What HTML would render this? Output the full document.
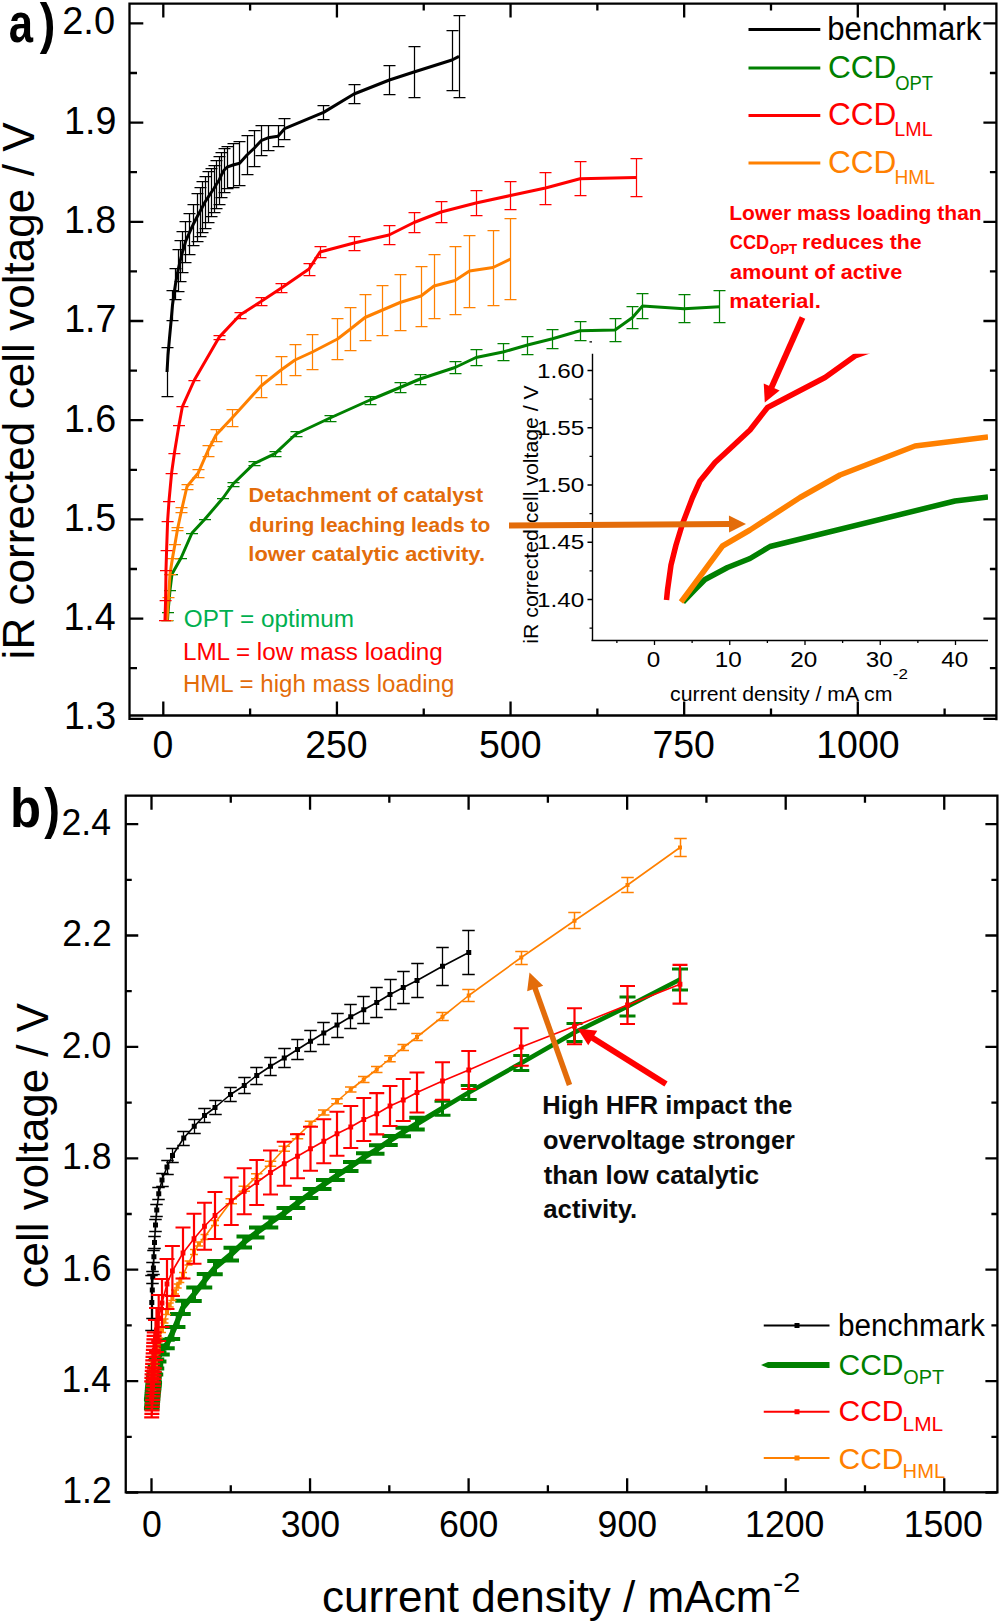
<!DOCTYPE html>
<html lang="en"><head><meta charset="utf-8"><title>Polarization curves</title>
<style>html,body{margin:0;padding:0;background:#fff}svg{display:block}text{white-space:pre}</style>
</head><body>
<svg width="1000" height="1623" viewBox="0 0 1000 1623" font-family="'Liberation Sans', Arial, Helvetica, sans-serif">
<rect x="0" y="0" width="1000" height="1623" fill="#fff"/>
<g id="panel-a">
<path d="M161.50 620.50H173.50M162.00 612.50H174.00M164.00 590.50H176.00M166.00 574.50H178.00M175.00 558.50H187.00M186.00 533.50H198.00M199.00 519.50H211.00M217.00 498.50H229.00M233.50 482.50V486.50M227.50 482.50H239.50M227.50 486.50H239.50M254.50 461.50V465.50M248.50 461.50H260.50M248.50 465.50H260.50M275.50 451.50V456.50M269.50 451.50H281.50M269.50 456.50H281.50M296.50 431.50V436.50M290.50 431.50H302.50M290.50 436.50H302.50M330.50 415.50V421.50M324.50 415.50H336.50M324.50 421.50H336.50M370.50 396.50V404.50M364.50 396.50H376.50M364.50 404.50H376.50M400.50 382.50V392.50M394.50 382.50H406.50M394.50 392.50H406.50M420.50 374.50V384.50M414.50 374.50H426.50M414.50 384.50H426.50M455.50 361.50V373.50M449.50 361.50H461.50M449.50 373.50H461.50M476.50 349.50V365.50M470.50 349.50H482.50M470.50 365.50H482.50M503.50 343.50V360.50M497.50 343.50H509.50M497.50 360.50H509.50M527.50 336.50V354.50M521.50 336.50H533.50M521.50 354.50H533.50M552.50 329.50V348.50M546.50 329.50H558.50M546.50 348.50H558.50M580.50 321.50V340.50M574.50 321.50H586.50M574.50 340.50H586.50M615.50 318.50V341.50M609.50 318.50H621.50M609.50 341.50H621.50M632.50 306.50V328.50M626.50 306.50H638.50M626.50 328.50H638.50M642.50 293.50V318.50M636.50 293.50H648.50M636.50 318.50H648.50M684.50 294.50V322.50M678.50 294.50H690.50M678.50 322.50H690.50M719.50 290.50V322.50M713.50 290.50H725.50M713.50 322.50H725.50" fill="none" stroke="#008000" stroke-width="1.25"/>
<polyline points="167.50,620.00 168.00,612.00 170.00,590.00 172.00,574.00 181.00,558.00 192.00,533.00 205.00,519.00 223.00,498.00 233.00,484.00 254.00,463.60 275.00,453.60 296.00,434.00 330.00,418.00 370.00,400.00 400.00,387.50 420.00,379.00 455.00,367.50 476.00,357.50 503.00,352.00 527.50,345.00 552.50,338.75 580.00,330.75 615.00,330.00 632.50,317.50 642.50,306.00 684.00,308.75 719.50,306.75" fill="none" stroke="#008000" stroke-width="3" stroke-linejoin="round" stroke-linecap="butt"/>
<path d="M161.00 620.50H173.00M162.50 597.50H174.50M164.00 574.50H176.00M166.50 558.50H178.50M169.00 544.50H181.00M177.50 527.50V530.50M171.50 527.50H183.50M171.50 530.50H183.50M181.50 507.50V512.50M175.50 507.50H187.50M175.50 512.50H187.50M187.50 484.50V489.50M181.50 484.50H193.50M181.50 489.50H193.50M198.50 469.50V477.50M192.50 469.50H204.50M192.50 477.50H204.50M208.50 445.50V456.50M202.50 445.50H214.50M202.50 456.50H214.50M216.50 429.50V441.50M210.50 429.50H222.50M210.50 441.50H222.50M232.50 409.50V426.50M226.50 409.50H238.50M226.50 426.50H238.50M261.50 375.50V397.50M255.50 375.50H267.50M255.50 397.50H267.50M281.50 356.50V384.50M275.50 356.50H287.50M275.50 384.50H287.50M295.50 344.50V375.50M289.50 344.50H301.50M289.50 375.50H301.50M312.50 334.50V369.50M306.50 334.50H318.50M306.50 369.50H318.50M337.50 318.50V359.50M331.50 318.50H343.50M331.50 359.50H343.50M350.50 307.50V350.50M344.50 307.50H356.50M344.50 350.50H356.50M365.50 294.50V340.50M359.50 294.50H371.50M359.50 340.50H371.50M382.50 285.50V335.50M376.50 285.50H388.50M376.50 335.50H388.50M400.50 274.50V330.50M394.50 274.50H406.50M394.50 330.50H406.50M421.50 266.50V326.50M415.50 266.50H427.50M415.50 326.50H427.50M434.50 254.50V318.50M428.50 254.50H440.50M428.50 318.50H440.50M455.50 246.50V314.50M449.50 246.50H461.50M449.50 314.50H461.50M469.50 235.50V307.50M463.50 235.50H475.50M463.50 307.50H475.50M493.50 230.50V305.50M487.50 230.50H499.50M487.50 305.50H499.50M510.50 218.50V299.50M504.50 218.50H516.50M504.50 299.50H516.50" fill="none" stroke="#ff8000" stroke-width="1.25"/>
<polyline points="167.00,620.00 168.50,597.00 170.00,574.00 172.50,558.00 175.00,544.00 177.60,528.70 181.60,510.00 187.00,486.50 198.00,473.30 208.00,450.50 216.00,435.00 232.00,418.00 261.00,386.00 281.00,370.00 295.00,360.00 312.40,352.00 337.50,339.00 350.50,329.00 365.00,317.50 382.50,310.00 400.00,302.50 421.00,296.00 434.00,286.00 455.00,280.50 469.50,271.00 493.00,267.50 510.50,259.00" fill="none" stroke="#ff8000" stroke-width="3" stroke-linejoin="round" stroke-linecap="butt"/>
<path d="M159.00 620.50H171.00M159.60 600.50H171.60M160.00 570.50H172.00M160.60 550.50H172.60M161.60 521.50H173.60M163.00 501.50H175.00M165.60 473.50H177.60M168.40 453.50H180.40M173.00 425.50H185.00M176.40 406.50H188.40M188.40 380.50H200.40M219.50 335.50V339.50M213.50 335.50H225.50M213.50 339.50H225.50M240.50 312.50V318.50M234.50 312.50H246.50M234.50 318.50H246.50M261.50 297.50V305.50M255.50 297.50H267.50M255.50 305.50H267.50M281.50 283.50V292.50M275.50 283.50H287.50M275.50 292.50H287.50M309.50 263.50V275.50M303.50 263.50H315.50M303.50 275.50H315.50M320.50 246.50V257.50M314.50 246.50H326.50M314.50 257.50H326.50M354.50 236.50V250.50M348.50 236.50H360.50M348.50 250.50H360.50M389.50 225.50V244.50M383.50 225.50H395.50M383.50 244.50H395.50M414.50 212.50V232.50M408.50 212.50H420.50M408.50 232.50H420.50M441.50 201.50V222.50M435.50 201.50H447.50M435.50 222.50H447.50M476.50 190.50V215.50M470.50 190.50H482.50M470.50 215.50H482.50M510.50 181.50V209.50M504.50 181.50H516.50M504.50 209.50H516.50M545.50 172.50V204.50M539.50 172.50H551.50M539.50 204.50H551.50M580.50 161.50V195.50M574.50 161.50H586.50M574.50 195.50H586.50M636.50 158.50V196.50M630.50 158.50H642.50M630.50 196.50H642.50" fill="none" stroke="#ff0000" stroke-width="1.25"/>
<polyline points="165.00,620.00 165.60,600.00 166.00,570.00 166.60,550.00 167.60,521.00 169.00,501.00 171.60,473.00 174.40,453.00 179.00,425.00 182.40,406.60 194.40,380.00 219.00,337.40 240.00,315.00 261.00,301.60 281.40,288.00 309.00,269.00 320.00,252.00 354.00,243.00 389.00,235.00 414.00,222.50 441.00,212.00 476.00,203.00 510.50,195.50 545.50,188.00 580.00,178.75 636.00,177.50" fill="none" stroke="#ff0000" stroke-width="3" stroke-linejoin="round" stroke-linecap="butt"/>
<path d="M167.50 347.50V396.50M161.50 347.50H173.50M161.50 396.50H173.50M172.50 290.50V320.50M166.50 290.50H178.50M166.50 320.50H178.50M175.50 268.50V299.50M169.50 268.50H181.50M169.50 299.50H181.50M178.50 249.50V291.50M172.50 249.50H184.50M172.50 291.50H184.50M180.50 240.50V281.50M174.50 240.50H186.50M174.50 281.50H186.50M182.50 231.50V272.50M176.50 231.50H188.50M176.50 272.50H188.50M185.50 221.50V262.50M179.50 221.50H191.50M179.50 262.50H191.50M189.50 213.50V254.50M183.50 213.50H195.50M183.50 254.50H195.50M193.50 204.50V245.50M187.50 204.50H199.50M187.50 245.50H199.50M197.50 193.50V241.50M191.50 193.50H203.50M191.50 241.50H203.50M200.50 187.50V236.50M194.50 187.50H206.50M194.50 236.50H206.50M202.50 181.50V232.50M196.50 181.50H208.50M196.50 232.50H208.50M205.50 176.50V228.50M199.50 176.50H211.50M199.50 228.50H211.50M208.50 171.50V222.50M202.50 171.50H214.50M202.50 222.50H214.50M211.50 168.50V216.50M205.50 168.50H217.50M205.50 216.50H217.50M214.50 165.50V212.50M208.50 165.50H220.50M208.50 212.50H220.50M216.50 160.50V208.50M210.50 160.50H222.50M210.50 208.50H222.50M219.50 156.50V204.50M213.50 156.50H225.50M213.50 204.50H225.50M221.50 152.50V197.50M215.50 152.50H227.50M215.50 197.50H227.50M224.50 148.50V192.50M218.50 148.50H230.50M218.50 192.50H230.50M227.50 146.50V188.50M221.50 146.50H233.50M221.50 188.50H233.50M233.50 143.50V187.50M227.50 143.50H239.50M227.50 187.50H239.50M239.50 141.50V185.50M233.50 141.50H245.50M233.50 185.50H245.50M247.50 135.50V174.50M241.50 135.50H253.50M241.50 174.50H253.50M254.50 130.50V166.50M248.50 130.50H260.50M248.50 166.50H260.50M261.50 125.50V155.50M255.50 125.50H267.50M255.50 155.50H267.50M268.50 125.50V150.50M262.50 125.50H274.50M262.50 150.50H274.50M278.50 125.50V146.50M272.50 125.50H284.50M272.50 146.50H284.50M284.50 118.50V139.50M278.50 118.50H290.50M278.50 139.50H290.50M323.50 105.50V119.50M317.50 105.50H329.50M317.50 119.50H329.50M354.50 84.50V103.50M348.50 84.50H360.50M348.50 103.50H360.50M389.50 65.50V94.50M383.50 65.50H395.50M383.50 94.50H395.50M414.50 46.50V97.50M408.50 46.50H420.50M408.50 97.50H420.50M452.50 30.50V90.50M446.50 30.50H458.50M446.50 90.50H458.50M459.50 15.50V97.50M453.50 15.50H465.50M453.50 97.50H465.50" fill="none" stroke="#000000" stroke-width="1.25"/>
<polyline points="167.00,372.00 168.00,355.00 169.50,338.00 171.00,322.00 172.50,305.00 174.00,294.00 175.50,284.00 178.00,270.30 180.30,260.50 182.60,251.50 185.50,241.70 189.00,233.50 193.00,224.80 197.00,217.00 200.00,211.50 202.50,206.80 205.00,202.00 208.50,196.70 211.50,192.00 214.00,188.50 216.50,184.00 219.00,180.30 221.50,174.80 224.00,170.20 227.00,167.20 233.00,165.00 239.60,163.30 247.00,155.00 254.40,148.00 261.60,140.30 268.00,137.80 278.00,136.20 284.60,128.70 323.60,112.40 354.00,94.00 389.40,80.00 414.00,72.00 452.00,60.00 459.00,56.40" fill="none" stroke="#000000" stroke-width="3" stroke-linejoin="round" stroke-linecap="butt"/>
<line x1="748.50" y1="29.50" x2="820.30" y2="29.50" stroke="#000000" stroke-width="3" stroke-linecap="butt"/>
<line x1="748.50" y1="68.00" x2="820.30" y2="68.00" stroke="#008000" stroke-width="3" stroke-linecap="butt"/>
<line x1="748.50" y1="115.50" x2="820.30" y2="115.50" stroke="#ff0000" stroke-width="3" stroke-linecap="butt"/>
<line x1="748.50" y1="163.00" x2="820.30" y2="163.00" stroke="#ff8000" stroke-width="3" stroke-linecap="butt"/>
<rect x="826" y="12" width="158" height="34" fill="#fff"/>
<text x="827.31" y="39.60" font-size="32.30" fill="#000000" textLength="153.92" lengthAdjust="spacingAndGlyphs">benchmark</text>
<text fill="#008000"><tspan x="827.92" y="78.30" font-size="31.60" textLength="68.48" lengthAdjust="spacingAndGlyphs">CCD</tspan><tspan x="895.14" y="89.50" font-size="19.60" textLength="37.78" lengthAdjust="spacingAndGlyphs">OPT</tspan></text>
<text fill="#ff0000"><tspan x="827.92" y="125.00" font-size="31.60" textLength="68.48" lengthAdjust="spacingAndGlyphs">CCD</tspan><tspan x="894.39" y="136.20" font-size="19.60" textLength="38.27" lengthAdjust="spacingAndGlyphs">LML</tspan></text>
<text fill="#ff8000"><tspan x="827.92" y="172.50" font-size="31.60" textLength="68.48" lengthAdjust="spacingAndGlyphs">CCD</tspan><tspan x="894.43" y="183.70" font-size="19.60" textLength="40.51" lengthAdjust="spacingAndGlyphs">HML</tspan></text>
<g id="inset-a">
<clipPath id="clipInset"><rect x="592.0" y="353.75" width="396.0" height="286.75"/></clipPath>
<text x="-1.40" y="0.00" font-size="20.60" fill="#000" transform="translate(538.30,642.30) rotate(-90)" textLength="258.48" lengthAdjust="spacingAndGlyphs">iR corrected cell voltage / V</text>
<text x="537.05" y="377.50" font-size="21.00" fill="#000" textLength="47.28" lengthAdjust="spacingAndGlyphs">1.60</text>
<text x="537.05" y="434.75" font-size="21.00" fill="#000" textLength="47.35" lengthAdjust="spacingAndGlyphs">1.55</text>
<text x="537.05" y="492.00" font-size="21.00" fill="#000" textLength="47.28" lengthAdjust="spacingAndGlyphs">1.50</text>
<text x="537.05" y="549.25" font-size="21.00" fill="#000" textLength="47.35" lengthAdjust="spacingAndGlyphs">1.45</text>
<text x="537.05" y="606.50" font-size="21.00" fill="#000" textLength="47.28" lengthAdjust="spacingAndGlyphs">1.40</text>
<text x="646.74" y="667.20" font-size="21.30" fill="#000" textLength="13.50" lengthAdjust="spacingAndGlyphs">0</text>
<text x="714.79" y="667.20" font-size="21.30" fill="#000" textLength="27.01" lengthAdjust="spacingAndGlyphs">10</text>
<text x="790.35" y="667.20" font-size="21.30" fill="#000" textLength="27.01" lengthAdjust="spacingAndGlyphs">20</text>
<text x="865.75" y="667.20" font-size="21.30" fill="#000" textLength="27.01" lengthAdjust="spacingAndGlyphs">30</text>
<text x="941.19" y="667.20" font-size="21.30" fill="#000" textLength="27.01" lengthAdjust="spacingAndGlyphs">40</text>
<text fill="#000"><tspan x="670.11" y="700.80" font-size="21.00" textLength="222.27" lengthAdjust="spacingAndGlyphs">current density / mA cm</tspan><tspan x="892.75" y="679.00" font-size="14.00" textLength="15.10" lengthAdjust="spacingAndGlyphs">-2</tspan></text>
<line x1="592.50" y1="353.75" x2="592.50" y2="641.00" stroke="#000000" stroke-width="1.4" stroke-linecap="butt"/>
<line x1="591.50" y1="640.50" x2="988.00" y2="640.50" stroke="#000000" stroke-width="1.4" stroke-linecap="butt"/>
<path d="M592.00 628.12h-2.5M592.00 599.50h-4.5M592.00 570.87h-2.5M592.00 542.25h-4.5M592.00 513.62h-2.5M592.00 485.00h-4.5M592.00 456.38h-2.5M592.00 427.75h-4.5M592.00 399.12h-2.5M592.00 370.50h-4.5M592.00 341.87h-2.5M616.88 640.50v2.5M654.50 640.50v4.5M692.12 640.50v2.5M729.75 640.50v4.5M767.38 640.50v2.5M805.00 640.50v4.5M842.62 640.50v2.5M880.25 640.50v4.5M917.88 640.50v2.5M955.50 640.50v4.5" stroke="#000" stroke-width="1.3" fill="none"/>
<g clip-path="url(#clipInset)">
<polyline points="683.00,602.00 695.00,589.50 705.00,579.50 727.50,567.50 750.00,558.50 770.00,546.50 955.00,501.00 988.00,497.00" fill="none" stroke="#008000" stroke-width="5.5" stroke-linejoin="round" stroke-linecap="butt"/>
<polyline points="681.00,602.00 690.00,590.00 722.50,546.00 750.00,530.00 800.00,497.50 840.00,475.00 915.00,446.00 988.00,437.00" fill="none" stroke="#ff8000" stroke-width="5.5" stroke-linejoin="round" stroke-linecap="butt"/>
<polyline points="666.50,600.00 667.50,590.00 671.00,565.00 676.00,545.00 682.50,523.75 692.50,497.50 700.00,481.00 715.00,462.50 727.50,451.00 750.00,430.00 767.50,407.50 825.00,377.50 855.00,356.00 869.00,351.00" fill="none" stroke="#ff0000" stroke-width="5.5" stroke-linejoin="round" stroke-linecap="butt"/>
</g>
</g>
<path d="M129.50 23.40h13.8M996.40 23.40h-13M129.50 73.00h7.5M996.40 73.00h-6.5M129.50 122.60h13.8M996.40 122.60h-13M129.50 172.20h7.5M996.40 172.20h-6.5M129.50 221.80h13.8M996.40 221.80h-13M129.50 271.40h7.5M996.40 271.40h-6.5M129.50 321.00h13.8M996.40 321.00h-13M129.50 370.60h7.5M996.40 370.60h-6.5M129.50 420.20h13.8M996.40 420.20h-13M129.50 469.80h7.5M996.40 469.80h-6.5M129.50 519.40h13.8M996.40 519.40h-13M129.50 569.00h7.5M996.40 569.00h-6.5M129.50 618.60h13.8M996.40 618.60h-13M129.50 668.20h7.5M996.40 668.20h-6.5M129.50 718.80h13.8M996.40 718.80h-13M163.30 3.55v14M163.30 715.50v-14M250.11 3.55v7M250.11 715.50v-7M336.93 3.55v14M336.93 715.50v-14M423.74 3.55v7M423.74 715.50v-7M510.55 3.55v14M510.55 715.50v-14M597.36 3.55v7M597.36 715.50v-7M684.17 3.55v14M684.17 715.50v-14M770.99 3.55v7M770.99 715.50v-7M857.80 3.55v14M857.80 715.50v-14M944.61 3.55v7M944.61 715.50v-7" stroke="#000" stroke-width="2.3" fill="none"/>
<path d="M129.5 720V3.55H996.4V720.2M128.4 715.5H997.5" stroke="#000" stroke-width="2.3" fill="none"/>
<text x="62.22" y="34.00" font-size="38.00" fill="#000" textLength="52.83" lengthAdjust="spacingAndGlyphs">2.0</text>
<text x="64.08" y="133.90" font-size="38.00" fill="#000" textLength="52.30" lengthAdjust="spacingAndGlyphs">1.9</text>
<text x="63.93" y="233.10" font-size="38.00" fill="#000" textLength="52.30" lengthAdjust="spacingAndGlyphs">1.8</text>
<text x="64.19" y="332.30" font-size="38.00" fill="#000" textLength="52.30" lengthAdjust="spacingAndGlyphs">1.7</text>
<text x="63.93" y="431.50" font-size="38.00" fill="#000" textLength="52.30" lengthAdjust="spacingAndGlyphs">1.6</text>
<text x="63.85" y="530.70" font-size="38.00" fill="#000" textLength="52.30" lengthAdjust="spacingAndGlyphs">1.5</text>
<text x="63.40" y="629.90" font-size="38.00" fill="#000" textLength="52.30" lengthAdjust="spacingAndGlyphs">1.4</text>
<text x="63.93" y="729.10" font-size="38.00" fill="#000" textLength="52.30" lengthAdjust="spacingAndGlyphs">1.3</text>
<text x="152.58" y="758.20" font-size="38.00" fill="#000" textLength="20.82" lengthAdjust="spacingAndGlyphs">0</text>
<text x="305.18" y="758.20" font-size="38.00" fill="#000" textLength="62.45" lengthAdjust="spacingAndGlyphs">250</text>
<text x="479.00" y="758.20" font-size="38.00" fill="#000" textLength="62.45" lengthAdjust="spacingAndGlyphs">500</text>
<text x="652.42" y="758.20" font-size="38.00" fill="#000" textLength="62.45" lengthAdjust="spacingAndGlyphs">750</text>
<text x="816.27" y="758.20" font-size="38.00" fill="#000" textLength="83.27" lengthAdjust="spacingAndGlyphs">1000</text>
<text x="-2.91" y="0.00" font-size="44.50" fill="#000" transform="translate(33.80,656.50) rotate(-90)" textLength="536.98" lengthAdjust="spacingAndGlyphs">iR corrected cell voltage / V</text>
<text y="41.60" font-size="55.50" fill="#000000" font-weight="bold"><tspan x="8.63" textLength="24.27" lengthAdjust="spacingAndGlyphs">a</tspan><tspan x="39.85" textLength="15.65" lengthAdjust="spacingAndGlyphs">)</tspan></text>
<text x="729.21" y="220.00" font-size="20.30" fill="#ff0000" font-weight="bold" textLength="252.49" lengthAdjust="spacingAndGlyphs">Lower mass loading than</text>
<text fill="#ff0000" font-weight="bold"><tspan x="729.85" y="249.45" font-size="20.30" textLength="39.40" lengthAdjust="spacingAndGlyphs">CCD</tspan><tspan x="769.86" y="254.25" font-size="13.80" textLength="27.27" lengthAdjust="spacingAndGlyphs">OPT</tspan><tspan x="796.19" y="249.45" font-size="20.30" textLength="125.54" lengthAdjust="spacingAndGlyphs"> reduces the</tspan></text>
<text x="729.97" y="278.90" font-size="20.30" fill="#ff0000" font-weight="bold" textLength="172.26" lengthAdjust="spacingAndGlyphs">amount of active</text>
<text x="729.15" y="308.35" font-size="20.30" fill="#ff0000" font-weight="bold" textLength="91.80" lengthAdjust="spacingAndGlyphs">material.</text>
<text x="248.49" y="502.30" font-size="20.50" fill="#e36c0a" font-weight="bold" textLength="234.67" lengthAdjust="spacingAndGlyphs">Detachment of catalyst</text>
<text x="249.04" y="532.00" font-size="20.50" fill="#e36c0a" font-weight="bold" textLength="241.27" lengthAdjust="spacingAndGlyphs">during leaching leads to</text>
<text x="248.39" y="560.80" font-size="20.50" fill="#e36c0a" font-weight="bold" textLength="236.61" lengthAdjust="spacingAndGlyphs">lower catalytic activity.</text>
<text x="183.76" y="627.00" font-size="23.00" fill="#00b050" textLength="170.31" lengthAdjust="spacingAndGlyphs">OPT = optimum</text>
<text x="182.91" y="660.00" font-size="23.00" fill="#ff0000" textLength="259.95" lengthAdjust="spacingAndGlyphs">LML = low mass loading</text>
<text x="182.93" y="691.70" font-size="23.00" fill="#e36c0a" textLength="271.43" lengthAdjust="spacingAndGlyphs">HML = high mass loading</text>
<line x1="802.50" y1="317.50" x2="771.29" y2="387.87" stroke="#ff0000" stroke-width="6" stroke-linecap="butt"/>
<polygon points="764.80,402.50 763.74,383.43 779.65,390.49" fill="#ff0000"/>
<line x1="509.00" y1="525.40" x2="730.00" y2="524.09" stroke="#e36c0a" stroke-width="6" stroke-linecap="butt"/>
<polygon points="746.00,524.00 729.05,532.60 728.95,515.60" fill="#e36c0a"/>
</g>
<g id="panel-b">
<path d="M151.50 1275.50V1330.50M145.25 1275.50H157.75M145.25 1330.50H157.75M152.50 1262.50V1318.50M146.25 1262.50H158.75M146.25 1318.50H158.75M152.50 1271.50V1283.50M146.25 1271.50H158.75M146.25 1283.50H158.75M153.50 1262.50V1274.50M147.25 1262.50H159.75M147.25 1274.50H159.75M153.50 1250.50V1262.50M147.25 1250.50H159.75M147.25 1262.50H159.75M154.50 1236.50V1248.50M148.25 1236.50H160.75M148.25 1248.50H160.75M155.50 1219.50V1231.50M149.25 1219.50H161.75M149.25 1231.50H161.75M156.50 1204.50V1216.50M150.25 1204.50H162.75M150.25 1216.50H162.75M158.50 1187.50V1199.50M152.25 1187.50H164.75M152.25 1199.50H164.75M162.50 1173.50V1186.50M156.25 1173.50H168.75M156.25 1186.50H168.75M167.50 1160.50V1174.50M161.25 1160.50H173.75M161.25 1174.50H173.75M172.50 1148.50V1162.50M166.25 1148.50H178.75M166.25 1162.50H178.75M183.50 1131.50V1145.50M177.25 1131.50H189.75M177.25 1145.50H189.75M194.50 1119.50V1133.50M188.25 1119.50H200.75M188.25 1133.50H200.75M204.50 1108.50V1122.50M198.25 1108.50H210.75M198.25 1122.50H210.75M215.50 1100.50V1114.50M209.25 1100.50H221.75M209.25 1114.50H221.75M230.50 1087.50V1101.50M224.25 1087.50H236.75M224.25 1101.50H236.75M244.50 1077.50V1093.50M238.25 1077.50H250.75M238.25 1093.50H250.75M256.50 1067.50V1084.50M250.25 1067.50H262.75M250.25 1084.50H262.75M270.50 1057.50V1075.50M264.25 1057.50H276.75M264.25 1075.50H276.75M284.50 1048.50V1067.50M278.25 1048.50H290.75M278.25 1067.50H290.75M297.50 1039.50V1059.50M291.25 1039.50H303.75M291.25 1059.50H303.75M310.50 1030.50V1051.50M304.25 1030.50H316.75M304.25 1051.50H316.75M323.50 1022.50V1044.50M317.25 1022.50H329.75M317.25 1044.50H329.75M337.50 1013.50V1037.50M331.25 1013.50H343.75M331.25 1037.50H343.75M350.50 1004.50V1028.50M344.25 1004.50H356.75M344.25 1028.50H356.75M363.50 996.50V1023.50M357.25 996.50H369.75M357.25 1023.50H369.75M376.50 987.50V1017.50M370.25 987.50H382.75M370.25 1017.50H382.75M390.50 979.50V1009.50M384.25 979.50H396.75M384.25 1009.50H396.75M403.50 971.50V1003.50M397.25 971.50H409.75M397.25 1003.50H409.75M417.50 963.50V997.50M411.25 963.50H423.75M411.25 997.50H423.75M442.50 947.50V985.50M436.25 947.50H448.75M436.25 985.50H448.75M468.50 930.50V974.50M462.25 930.50H474.75M462.25 974.50H474.75" fill="none" stroke="#000000" stroke-width="1.3"/>
<polyline points="151.80,1302.50 152.30,1290.00 152.80,1277.00 153.40,1268.00 153.90,1256.75 154.50,1242.50 155.50,1225.00 156.75,1210.00 158.75,1193.75 162.00,1180.00 167.00,1167.00 172.50,1155.50 183.75,1138.00 194.25,1126.25 204.50,1115.50 215.00,1107.50 230.50,1094.50 244.25,1085.50 256.75,1075.50 270.50,1066.25 284.25,1058.00 297.50,1049.50 310.50,1041.25 323.75,1033.00 337.00,1025.00 350.75,1016.75 363.75,1009.75 376.75,1002.50 390.00,994.50 403.25,987.50 417.00,980.50 442.50,966.25 468.75,952.50" fill="none" stroke="#000000" stroke-width="1.6" stroke-linejoin="round" stroke-linecap="butt"/>
<path d="M149.30 1300.00h5v5h-5zM149.80 1287.50h5v5h-5zM150.30 1274.50h5v5h-5zM150.90 1265.50h5v5h-5zM151.40 1254.25h5v5h-5zM152.00 1240.00h5v5h-5zM153.00 1222.50h5v5h-5zM154.25 1207.50h5v5h-5zM156.25 1191.25h5v5h-5zM159.50 1177.50h5v5h-5zM164.50 1164.50h5v5h-5zM170.00 1153.00h5v5h-5zM181.25 1135.50h5v5h-5zM191.75 1123.75h5v5h-5zM202.00 1113.00h5v5h-5zM212.50 1105.00h5v5h-5zM228.00 1092.00h5v5h-5zM241.75 1083.00h5v5h-5zM254.25 1073.00h5v5h-5zM268.00 1063.75h5v5h-5zM281.75 1055.50h5v5h-5zM295.00 1047.00h5v5h-5zM308.00 1038.75h5v5h-5zM321.25 1030.50h5v5h-5zM334.50 1022.50h5v5h-5zM348.25 1014.25h5v5h-5zM361.25 1007.25h5v5h-5zM374.25 1000.00h5v5h-5zM387.50 992.00h5v5h-5zM400.75 985.00h5v5h-5zM414.50 978.00h5v5h-5zM440.00 963.75h5v5h-5zM466.25 950.00h5v5h-5z" fill="#000000"/>
<path d="M151.70 1399.50V1408.50M143.95 1399.50H159.45M143.95 1408.50H159.45M151.89 1398.42V1407.42M144.14 1398.42H159.64M144.14 1407.42H159.64M152.07 1396.26V1405.26M144.32 1396.26H159.82M144.32 1405.26H159.82M152.26 1393.98V1402.98M144.51 1393.98H160.01M144.51 1402.98H160.01M152.44 1391.82V1400.82M144.69 1391.82H160.19M144.69 1400.82H160.19M152.63 1389.54V1398.54M144.88 1389.54H160.38M144.88 1398.54H160.38M152.81 1387.40V1396.40M145.06 1387.40H160.56M145.06 1396.40H160.56M153.00 1385.50V1394.50M145.25 1385.50H160.75M145.25 1394.50H160.75M153.19 1383.60V1392.60M145.44 1383.60H160.94M145.44 1392.60H160.94M153.37 1381.80V1390.80M145.62 1381.80H161.12M145.62 1390.80H161.12M153.56 1380.17V1389.17M145.81 1380.17H161.31M145.81 1389.17H161.31M153.74 1378.67V1387.67M145.99 1378.67H161.49M145.99 1387.67H161.49M153.93 1377.08V1386.08M146.18 1377.08H161.68M146.18 1386.08H161.68M154.11 1375.40V1384.40M146.36 1375.40H161.86M146.36 1384.40H161.86M154.30 1373.50V1382.50M146.55 1373.50H162.05M146.55 1382.50H162.05M155.50 1365.50V1374.50M147.75 1365.50H163.25M147.75 1374.50H163.25M156.50 1359.50V1368.50M148.75 1359.50H164.25M148.75 1368.50H164.25M158.70 1352.50V1361.50M150.95 1352.50H166.45M150.95 1361.50H166.45M162.00 1345.50V1354.50M154.25 1345.50H169.75M154.25 1354.50H169.75M167.00 1339.75V1348.25M159.25 1339.75H174.75M159.25 1348.25H174.75M172.40 1327.12V1338.88M164.65 1327.12H180.15M164.65 1338.88H180.15M177.70 1314.10V1326.90M169.95 1314.10H185.45M169.95 1326.90H185.45M183.00 1300.84V1313.96M175.25 1300.84H190.75M175.25 1313.96H190.75M194.00 1287.59V1300.91M186.25 1287.59H201.75M186.25 1300.91H201.75M204.50 1274.09V1287.41M196.75 1274.09H212.25M196.75 1287.41H212.25M215.00 1260.96V1274.24M207.25 1260.96H222.75M207.25 1274.24H222.75M231.25 1247.80V1260.60M223.50 1247.80H239.00M223.50 1260.60H239.00M244.25 1236.58V1247.42M236.50 1236.58H252.00M236.50 1247.42H252.00M256.75 1227.62V1237.38M249.00 1227.62H264.50M249.00 1237.38H264.50M270.50 1217.62V1227.38M262.75 1217.62H278.25M262.75 1227.38H278.25M284.25 1208.12V1217.88M276.50 1208.12H292.00M276.50 1217.88H292.00M297.50 1198.12V1207.88M289.75 1198.12H305.25M289.75 1207.88H305.25M310.50 1188.88V1198.12M302.75 1188.88H318.25M302.75 1198.12H318.25M323.75 1180.00V1189.00M316.00 1180.00H331.50M316.00 1189.00H331.50M337.00 1171.00V1180.00M329.25 1171.00H344.75M329.25 1180.00H344.75M350.75 1162.00V1171.00M343.00 1162.00H358.50M343.00 1171.00H358.50M363.75 1153.25V1161.75M356.00 1153.25H371.50M356.00 1161.75H371.50M376.75 1145.25V1153.75M369.00 1145.25H384.50M369.00 1153.75H384.50M390.00 1136.12V1144.88M382.25 1136.12H397.75M382.25 1144.88H397.75M403.25 1127.78V1136.22M395.50 1127.78H411.00M395.50 1136.22H411.00M417.00 1117.66V1129.54M409.25 1117.66H424.75M409.25 1129.54H424.75" fill="none" stroke="#008000" stroke-width="4"/>
<path d="M442.50 1101.25V1115.25M434.50 1101.25H450.50M434.50 1115.25H450.50M468.75 1085.50V1099.50M460.75 1085.50H476.75M460.75 1099.50H476.75M521.25 1055.50V1070.50M513.25 1055.50H529.25M513.25 1070.50H529.25M574.50 1023.50V1041.50M566.50 1023.50H582.50M566.50 1041.50H582.50M627.50 996.90V1016.10M619.50 996.90H635.50M619.50 1016.10H635.50M680.00 969.00V990.00M672.00 969.00H688.00M672.00 990.00H688.00" fill="none" stroke="#008000" stroke-width="3"/>
<polyline points="151.70,1404.00 151.89,1402.92 152.07,1400.76 152.26,1398.48 152.44,1396.32 152.63,1394.04 152.81,1391.90 153.00,1390.00 153.19,1388.10 153.37,1386.30 153.56,1384.67 153.74,1383.17 153.93,1381.58 154.11,1379.90 154.30,1378.00 155.50,1370.00 156.50,1364.00 158.70,1357.00 162.00,1350.00 167.00,1344.00 172.40,1333.00 177.70,1320.50 183.00,1307.40 194.00,1294.25 204.50,1280.75 215.00,1267.60 231.25,1254.20 244.25,1242.00 256.75,1232.50 270.50,1222.50 284.25,1213.00 297.50,1203.00 310.50,1193.50 323.75,1184.50 337.00,1175.50 350.75,1166.50 363.75,1157.50 376.75,1149.50 390.00,1140.50 403.25,1132.00 417.00,1123.60 442.50,1108.25" fill="none" stroke="#008000" stroke-width="5.5" stroke-linejoin="round" stroke-linecap="butt"/>
<polyline points="442.50,1108.25 468.75,1092.50 521.25,1063.00 574.50,1032.50 627.50,1006.50 680.00,979.50" fill="none" stroke="#008000" stroke-width="4.6" stroke-linejoin="round" stroke-linecap="butt"/>
<path d="M151.80 1396.00V1400.00M147.80 1396.00H155.80M147.80 1400.00H155.80M152.30 1386.00V1390.00M148.30 1386.00H156.30M148.30 1390.00H156.30M152.80 1377.00V1381.00M148.80 1377.00H156.80M148.80 1381.00H156.80M153.40 1369.00V1373.00M149.40 1369.00H157.40M149.40 1373.00H157.40M154.00 1362.00V1366.00M150.00 1362.00H158.00M150.00 1366.00H158.00M154.50 1356.00V1360.00M150.50 1356.00H158.50M150.50 1360.00H158.50M155.50 1350.00V1354.00M151.50 1350.00H159.50M151.50 1354.00H159.50M156.50 1345.00V1349.00M152.50 1345.00H160.50M152.50 1349.00H160.50M158.70 1338.00V1342.00M154.70 1338.00H162.70M154.70 1342.00H162.70M162.00 1327.50V1332.50M158.00 1327.50H166.00M158.00 1332.50H166.00M164.50 1319.00V1323.00M160.50 1319.00H168.50M160.50 1323.00H168.50M167.00 1309.50V1314.50M163.00 1309.50H171.00M163.00 1314.50H171.00M169.70 1303.00V1307.00M165.70 1303.00H173.70M165.70 1307.00H173.70M172.40 1295.50V1300.50M168.40 1295.50H176.40M168.40 1300.50H176.40M175.00 1290.00V1294.00M171.00 1290.00H179.00M171.00 1294.00H179.00M177.70 1284.00V1288.00M173.70 1284.00H181.70M173.70 1288.00H181.70M180.30 1278.50V1282.50M176.30 1278.50H184.30M176.30 1282.50H184.30M183.00 1272.50V1277.50M179.00 1272.50H187.00M179.00 1277.50H187.00M188.50 1261.00V1265.00M184.50 1261.00H192.50M184.50 1265.00H192.50M194.00 1249.50V1254.50M190.00 1249.50H198.00M190.00 1254.50H198.00M199.00 1242.00V1246.00M195.00 1242.00H203.00M195.00 1246.00H203.00M204.50 1234.50V1239.50M200.50 1234.50H208.50M200.50 1239.50H208.50M215.00 1220.50V1225.50M211.00 1220.50H219.00M211.00 1225.50H219.00" fill="none" stroke="#ff8000" stroke-width="1.3"/>
<path d="M231.25 1198.75V1203.75M225.50 1198.75H237.00M225.50 1203.75H237.00M244.25 1186.25V1191.25M238.50 1186.25H250.00M238.50 1191.25H250.00M256.75 1173.75V1178.75M251.00 1173.75H262.50M251.00 1178.75H262.50M270.50 1161.25V1166.25M264.75 1161.25H276.25M264.75 1166.25H276.25M284.25 1146.25V1151.25M278.50 1146.25H290.00M278.50 1151.25H290.00M297.50 1133.75V1138.75M291.75 1133.75H303.25M291.75 1138.75H303.25M310.50 1121.25V1126.25M304.75 1121.25H316.25M304.75 1126.25H316.25M323.75 1110.00V1115.00M318.00 1110.00H329.50M318.00 1115.00H329.50M337.00 1098.75V1103.75M331.25 1098.75H342.75M331.25 1103.75H342.75M350.75 1087.00V1092.00M345.00 1087.00H356.50M345.00 1092.00H356.50M363.75 1076.50V1082.50M358.00 1076.50H369.50M358.00 1082.50H369.50M376.75 1066.50V1072.50M371.00 1066.50H382.50M371.00 1072.50H382.50M390.00 1055.75V1061.75M384.25 1055.75H395.75M384.25 1061.75H395.75M403.25 1044.50V1050.50M397.50 1044.50H409.00M397.50 1050.50H409.00M417.00 1033.50V1040.50M411.25 1033.50H422.75M411.25 1040.50H422.75" fill="none" stroke="#ff8000" stroke-width="1.4"/>
<path d="M442.50 1012.50V1020.50M436.25 1012.50H448.75M436.25 1020.50H448.75M468.50 989.50V1001.50M462.25 989.50H474.75M462.25 1001.50H474.75M521.50 951.50V964.50M515.25 951.50H527.75M515.25 964.50H527.75M574.50 912.50V928.50M568.25 912.50H580.75M568.25 928.50H580.75M627.50 877.50V892.50M621.25 877.50H633.75M621.25 892.50H633.75M680.50 838.50V856.50M674.25 838.50H686.75M674.25 856.50H686.75" fill="none" stroke="#ff8000" stroke-width="1.5"/>
<polyline points="151.80,1398.00 152.30,1388.00 152.80,1379.00 153.40,1371.00 154.00,1364.00 154.50,1358.00 155.50,1352.00 156.50,1347.00 158.70,1340.00 162.00,1330.00 164.50,1321.00 167.00,1312.00 169.70,1305.00 172.40,1298.00 175.00,1292.00 177.70,1286.00 180.30,1280.50 183.00,1275.00 188.50,1263.00 194.00,1252.00 199.00,1244.00 204.50,1237.00 215.00,1223.00 231.25,1201.25 244.25,1188.75 256.75,1176.25 270.50,1163.75 284.25,1148.75 297.50,1136.25 310.50,1123.75 323.75,1112.50 337.00,1101.25 350.75,1089.50 363.75,1079.50 376.75,1069.50 390.00,1058.75 403.25,1047.50 417.00,1037.00 442.50,1016.75 468.75,995.50 521.25,957.50 574.50,920.75 627.50,885.00 680.00,847.50" fill="none" stroke="#ff8000" stroke-width="1.6" stroke-linejoin="round" stroke-linecap="butt"/>
<path d="M149.80 1396.00h4v4h-4zM150.30 1386.00h4v4h-4zM150.80 1377.00h4v4h-4zM151.40 1369.00h4v4h-4zM152.00 1362.00h4v4h-4zM152.50 1356.00h4v4h-4zM153.50 1350.00h4v4h-4zM154.50 1345.00h4v4h-4zM156.70 1338.00h4v4h-4zM160.00 1328.00h4v4h-4zM162.50 1319.00h4v4h-4zM165.00 1310.00h4v4h-4zM167.70 1303.00h4v4h-4zM170.40 1296.00h4v4h-4zM173.00 1290.00h4v4h-4zM175.70 1284.00h4v4h-4zM178.30 1278.50h4v4h-4zM181.00 1273.00h4v4h-4zM186.50 1261.00h4v4h-4zM192.00 1250.00h4v4h-4zM197.00 1242.00h4v4h-4zM202.50 1235.00h4v4h-4zM213.00 1221.00h4v4h-4zM229.25 1199.25h4v4h-4zM242.25 1186.75h4v4h-4zM254.75 1174.25h4v4h-4zM268.50 1161.75h4v4h-4zM282.25 1146.75h4v4h-4zM295.50 1134.25h4v4h-4zM308.50 1121.75h4v4h-4zM321.75 1110.50h4v4h-4zM335.00 1099.25h4v4h-4zM348.75 1087.50h4v4h-4zM361.75 1077.50h4v4h-4zM374.75 1067.50h4v4h-4zM388.00 1056.75h4v4h-4zM401.25 1045.50h4v4h-4zM415.00 1035.00h4v4h-4zM440.50 1014.75h4v4h-4zM466.75 993.50h4v4h-4zM519.25 955.50h4v4h-4zM572.50 918.75h4v4h-4zM625.50 883.00h4v4h-4zM678.00 845.50h4v4h-4z" fill="#ff8000"/>
<path d="M151.70 1381.40V1417.40M144.20 1381.40H159.20M144.20 1417.40H159.20M151.89 1377.90V1413.90M144.39 1377.90H159.39M144.39 1413.90H159.39M152.07 1374.40V1410.40M144.57 1374.40H159.57M144.57 1410.40H159.57M152.26 1370.90V1406.90M144.76 1370.90H159.76M144.76 1406.90H159.76M152.44 1367.40V1403.40M144.94 1367.40H159.94M144.94 1403.40H159.94M152.63 1363.90V1399.90M145.13 1363.90H160.13M145.13 1399.90H160.13M152.81 1360.40V1396.40M145.31 1360.40H160.31M145.31 1396.40H160.31M153.00 1356.90V1392.90M145.50 1356.90H160.50M145.50 1392.90H160.50M153.19 1353.40V1389.40M145.69 1353.40H160.69M145.69 1389.40H160.69M153.37 1349.90V1385.90M145.87 1349.90H160.87M145.87 1385.90H160.87M153.56 1346.40V1382.40M146.06 1346.40H161.06M146.06 1382.40H161.06M153.74 1342.90V1378.90M146.24 1342.90H161.24M146.24 1378.90H161.24M153.93 1339.40V1375.40M146.43 1339.40H161.43M146.43 1375.40H161.43M154.11 1335.90V1371.90M146.61 1335.90H161.61M146.61 1371.90H161.61M154.30 1332.40V1368.40M146.80 1332.40H161.80M146.80 1368.40H161.80M155.50 1320.00V1360.00M148.00 1320.00H163.00M148.00 1360.00H163.00M156.50 1308.00V1352.00M149.00 1308.00H164.00M149.00 1352.00H164.00M158.70 1295.00V1341.00M151.20 1295.00H166.20M151.20 1341.00H166.20M162.00 1279.00V1327.00M154.50 1279.00H169.50M154.50 1327.00H169.50M167.00 1259.00V1309.00M159.50 1259.00H174.50M159.50 1309.00H174.50M172.40 1246.00V1296.00M164.90 1246.00H179.90M164.90 1296.00H179.90M183.00 1227.50V1278.50M175.50 1227.50H190.50M175.50 1278.50H190.50M194.00 1213.75V1263.75M186.50 1213.75H201.50M186.50 1263.75H201.50M204.50 1202.75V1249.75M197.00 1202.75H212.00M197.00 1249.75H212.00M215.00 1192.00V1239.00M207.50 1192.00H222.50M207.50 1239.00H222.50M231.25 1177.50V1225.00M223.75 1177.50H238.75M223.75 1225.00H238.75M244.25 1168.25V1214.25M236.75 1168.25H251.75M236.75 1214.25H251.75M256.75 1160.00V1205.00M249.25 1160.00H264.25M249.25 1205.00H264.25M270.50 1150.50V1194.50M263.00 1150.50H278.00M263.00 1194.50H278.00M284.25 1141.75V1185.75M276.75 1141.75H291.75M276.75 1185.75H291.75M297.50 1134.25V1178.25M290.00 1134.25H305.00M290.00 1178.25H305.00M310.50 1126.75V1170.75M303.00 1126.75H318.00M303.00 1170.75H318.00M323.75 1119.25V1163.25M316.25 1119.25H331.25M316.25 1163.25H331.25M337.00 1111.75V1155.75M329.50 1111.75H344.50M329.50 1155.75H344.50M350.75 1106.00V1148.00M343.25 1106.00H358.25M343.25 1148.00H358.25M363.75 1098.00V1141.00M356.25 1098.00H371.25M356.25 1141.00H371.25M376.75 1093.15V1134.35M369.25 1093.15H384.25M369.25 1134.35H384.25M390.00 1086.00V1126.00M382.50 1086.00H397.50M382.50 1126.00H397.50M403.25 1079.00V1121.00M395.75 1079.00H410.75M395.75 1121.00H410.75M417.00 1072.50V1112.50M409.50 1072.50H424.50M409.50 1112.50H424.50M442.50 1062.25V1099.75M435.00 1062.25H450.00M435.00 1099.75H450.00M468.75 1051.00V1089.00M461.25 1051.00H476.25M461.25 1089.00H476.25M521.25 1028.25V1065.75M513.75 1028.25H528.75M513.75 1065.75H528.75M574.50 1008.25V1044.25M567.00 1008.25H582.00M567.00 1044.25H582.00M627.50 986.00V1024.00M620.00 986.00H635.00M620.00 1024.00H635.00M680.00 964.85V1003.65M672.50 964.85H687.50M672.50 1003.65H687.50" fill="none" stroke="#ff0000" stroke-width="2.2"/>
<polyline points="151.70,1399.40 151.89,1395.90 152.07,1392.40 152.26,1388.90 152.44,1385.40 152.63,1381.90 152.81,1378.40 153.00,1374.90 153.19,1371.40 153.37,1367.90 153.56,1364.40 153.74,1360.90 153.93,1357.40 154.11,1353.90 154.30,1350.40 155.50,1340.00 156.50,1330.00 158.70,1318.00 162.00,1303.00 167.00,1284.00 172.40,1271.00 183.00,1253.00 194.00,1238.75 204.50,1226.25 215.00,1215.50 231.25,1201.25 244.25,1191.25 256.75,1182.50 270.50,1172.50 284.25,1163.75 297.50,1156.25 310.50,1148.75 323.75,1141.25 337.00,1133.75 350.75,1127.00 363.75,1119.50 376.75,1113.75 390.00,1106.00 403.25,1100.00 417.00,1092.50 442.50,1081.00 468.75,1070.00 521.25,1047.00 574.50,1026.25 627.50,1005.00 680.00,984.25" fill="none" stroke="#ff0000" stroke-width="1.6" stroke-linejoin="round" stroke-linecap="butt"/>
<path d="M149.30 1397.00h4.8v4.8h-4.8zM149.49 1393.50h4.8v4.8h-4.8zM149.67 1390.00h4.8v4.8h-4.8zM149.86 1386.50h4.8v4.8h-4.8zM150.04 1383.00h4.8v4.8h-4.8zM150.23 1379.50h4.8v4.8h-4.8zM150.41 1376.00h4.8v4.8h-4.8zM150.60 1372.50h4.8v4.8h-4.8zM150.79 1369.00h4.8v4.8h-4.8zM150.97 1365.50h4.8v4.8h-4.8zM151.16 1362.00h4.8v4.8h-4.8zM151.34 1358.50h4.8v4.8h-4.8zM151.53 1355.00h4.8v4.8h-4.8zM151.71 1351.50h4.8v4.8h-4.8zM151.90 1348.00h4.8v4.8h-4.8zM153.10 1337.60h4.8v4.8h-4.8zM154.10 1327.60h4.8v4.8h-4.8zM156.30 1315.60h4.8v4.8h-4.8zM159.60 1300.60h4.8v4.8h-4.8zM164.60 1281.60h4.8v4.8h-4.8zM170.00 1268.60h4.8v4.8h-4.8zM180.60 1250.60h4.8v4.8h-4.8zM191.60 1236.35h4.8v4.8h-4.8zM202.10 1223.85h4.8v4.8h-4.8zM212.60 1213.10h4.8v4.8h-4.8zM228.85 1198.85h4.8v4.8h-4.8zM241.85 1188.85h4.8v4.8h-4.8zM254.35 1180.10h4.8v4.8h-4.8zM268.10 1170.10h4.8v4.8h-4.8zM281.85 1161.35h4.8v4.8h-4.8zM295.10 1153.85h4.8v4.8h-4.8zM308.10 1146.35h4.8v4.8h-4.8zM321.35 1138.85h4.8v4.8h-4.8zM334.60 1131.35h4.8v4.8h-4.8zM348.35 1124.60h4.8v4.8h-4.8zM361.35 1117.10h4.8v4.8h-4.8zM374.35 1111.35h4.8v4.8h-4.8zM387.60 1103.60h4.8v4.8h-4.8zM400.85 1097.60h4.8v4.8h-4.8zM414.60 1090.10h4.8v4.8h-4.8zM440.10 1078.60h4.8v4.8h-4.8zM466.35 1067.60h4.8v4.8h-4.8zM518.85 1044.60h4.8v4.8h-4.8zM572.10 1023.85h4.8v4.8h-4.8zM625.10 1002.60h4.8v4.8h-4.8zM677.60 981.85h4.8v4.8h-4.8z" fill="#ff0000"/>
<line x1="763.75" y1="1325.50" x2="829.50" y2="1325.50" stroke="#000000" stroke-width="1.9" stroke-linecap="butt"/>
<path d="M794.50 1323.00h5v5h-5z" fill="#000000"/>
<polygon points="761,1365 768,1362 829.5,1362 829.5,1368 768,1368" fill="#008000"/>
<line x1="763.75" y1="1411.75" x2="829.50" y2="1411.75" stroke="#ff0000" stroke-width="1.9" stroke-linecap="butt"/>
<path d="M794.50 1409.25h5v5h-5z" fill="#ff0000"/>
<line x1="763.75" y1="1458.00" x2="829.50" y2="1458.00" stroke="#ff8000" stroke-width="1.9" stroke-linecap="butt"/>
<path d="M794.50 1455.50h5v5h-5z" fill="#ff8000"/>
<rect x="836" y="1308" width="152" height="34" fill="#fff"/>
<text x="838.10" y="1335.50" font-size="30.80" fill="#000000" textLength="146.83" lengthAdjust="spacingAndGlyphs">benchmark</text>
<text fill="#008000"><tspan x="838.50" y="1375.00" font-size="30.00" textLength="64.92" lengthAdjust="spacingAndGlyphs">CCD</tspan><tspan x="903.32" y="1384.30" font-size="19.80" textLength="40.89" lengthAdjust="spacingAndGlyphs">OPT</tspan></text>
<text fill="#ff0000"><tspan x="838.50" y="1421.25" font-size="30.00" textLength="64.92" lengthAdjust="spacingAndGlyphs">CCD</tspan><tspan x="902.54" y="1430.55" font-size="19.80" textLength="40.66" lengthAdjust="spacingAndGlyphs">LML</tspan></text>
<text fill="#ff8000"><tspan x="838.50" y="1468.75" font-size="30.00" textLength="64.92" lengthAdjust="spacingAndGlyphs">CCD</tspan><tspan x="902.60" y="1478.05" font-size="19.80" textLength="42.58" lengthAdjust="spacingAndGlyphs">HML</tspan></text>
<path d="M125.75 824.10h12.5M997.40 824.10h-12M125.75 879.80h6M997.40 879.80h-6M125.75 935.50h12.5M997.40 935.50h-12M125.75 991.20h6M997.40 991.20h-6M125.75 1046.90h12.5M997.40 1046.90h-12M125.75 1102.60h6M997.40 1102.60h-6M125.75 1158.30h12.5M997.40 1158.30h-12M125.75 1214.00h6M997.40 1214.00h-6M125.75 1269.70h12.5M997.40 1269.70h-12M125.75 1325.40h6M997.40 1325.40h-6M125.75 1381.10h12.5M997.40 1381.10h-12M125.75 1436.80h6M997.40 1436.80h-6M125.75 1492.50h12.5M997.40 1492.50h-12M151.50 795.65v14M151.50 1492.30v-14M230.77 795.65v7M230.77 1492.30v-7M310.05 795.65v14M310.05 1492.30v-14M389.32 795.65v7M389.32 1492.30v-7M468.60 795.65v14M468.60 1492.30v-14M547.88 795.65v7M547.88 1492.30v-7M627.15 795.65v14M627.15 1492.30v-14M706.42 795.65v7M706.42 1492.30v-7M785.70 795.65v14M785.70 1492.30v-14M864.97 795.65v7M864.97 1492.30v-7M944.25 795.65v14M944.25 1492.30v-14" stroke="#000" stroke-width="2.3" fill="none"/>
<rect x="125.75" y="795.65" width="871.65" height="696.65" stroke="#000" stroke-width="2.3" fill="none"/>
<text x="61.51" y="834.90" font-size="37.50" fill="#000" textLength="49.52" lengthAdjust="spacingAndGlyphs">2.4</text>
<text x="62.26" y="946.30" font-size="37.50" fill="#000" textLength="49.52" lengthAdjust="spacingAndGlyphs">2.2</text>
<text x="61.84" y="1057.70" font-size="37.50" fill="#000" textLength="49.52" lengthAdjust="spacingAndGlyphs">2.0</text>
<text x="62.01" y="1169.10" font-size="37.50" fill="#000" textLength="49.52" lengthAdjust="spacingAndGlyphs">1.8</text>
<text x="62.01" y="1280.50" font-size="37.50" fill="#000" textLength="49.52" lengthAdjust="spacingAndGlyphs">1.6</text>
<text x="61.51" y="1391.90" font-size="37.50" fill="#000" textLength="49.52" lengthAdjust="spacingAndGlyphs">1.4</text>
<text x="62.26" y="1503.30" font-size="37.50" fill="#000" textLength="49.52" lengthAdjust="spacingAndGlyphs">1.2</text>
<text x="141.88" y="1537.00" font-size="37.50" fill="#000" textLength="19.81" lengthAdjust="spacingAndGlyphs">0</text>
<text x="280.64" y="1537.00" font-size="37.50" fill="#000" textLength="59.44" lengthAdjust="spacingAndGlyphs">300</text>
<text x="438.97" y="1537.00" font-size="37.50" fill="#000" textLength="59.44" lengthAdjust="spacingAndGlyphs">600</text>
<text x="597.60" y="1537.00" font-size="37.50" fill="#000" textLength="59.44" lengthAdjust="spacingAndGlyphs">900</text>
<text x="745.11" y="1537.00" font-size="37.50" fill="#000" textLength="79.25" lengthAdjust="spacingAndGlyphs">1200</text>
<text x="903.66" y="1537.00" font-size="37.50" fill="#000" textLength="79.25" lengthAdjust="spacingAndGlyphs">1500</text>
<text x="-1.84" y="0.00" font-size="44.50" fill="#000" transform="translate(47.50,1286.50) rotate(-90)" textLength="285.34" lengthAdjust="spacingAndGlyphs">cell voltage / V</text>
<text fill="#000"><tspan x="322.05" y="1612.00" font-size="44.50" textLength="450.32" lengthAdjust="spacingAndGlyphs">current density / mAcm</tspan><tspan x="772.94" y="1592.00" font-size="27.60" textLength="27.51" lengthAdjust="spacingAndGlyphs">-2</tspan></text>
<text y="827.20" font-size="55.00" fill="#000000" font-weight="bold"><tspan x="9.89" textLength="31.09" lengthAdjust="spacingAndGlyphs">b</tspan><tspan x="44.35" textLength="15.77" lengthAdjust="spacingAndGlyphs">)</tspan></text>
<text x="542.32" y="1114.00" font-size="25.00" fill="#0a0a0a" font-weight="bold" textLength="250.06" lengthAdjust="spacingAndGlyphs">High HFR impact the</text>
<text x="543.01" y="1149.00" font-size="25.00" fill="#0a0a0a" font-weight="bold" textLength="251.85" lengthAdjust="spacingAndGlyphs">overvoltage stronger</text>
<text x="543.69" y="1183.60" font-size="25.00" fill="#0a0a0a" font-weight="bold" textLength="215.57" lengthAdjust="spacingAndGlyphs">than low catalytic</text>
<text x="543.25" y="1218.00" font-size="25.00" fill="#0a0a0a" font-weight="bold" textLength="94.02" lengthAdjust="spacingAndGlyphs">activity.</text>
<line x1="569.50" y1="1085.00" x2="534.86" y2="987.58" stroke="#e36c0a" stroke-width="5.5" stroke-linecap="butt"/>
<polygon points="529.50,972.50 543.20,985.67 527.19,991.37" fill="#e36c0a"/>
<line x1="666.00" y1="1084.00" x2="591.90" y2="1037.53" stroke="#ff0000" stroke-width="6" stroke-linecap="butt"/>
<polygon points="577.50,1028.50 597.27,1030.86 588.23,1045.26" fill="#ff0000"/>
</g>
</svg></body></html>
